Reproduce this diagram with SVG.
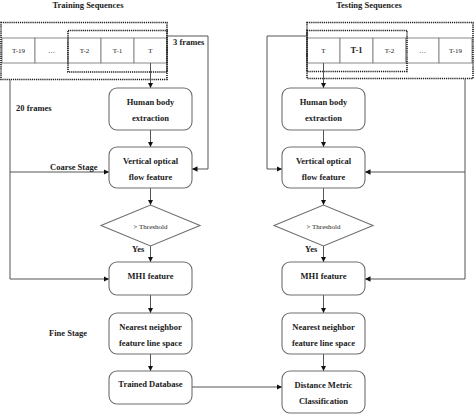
<svg xmlns="http://www.w3.org/2000/svg" width="474" height="414" viewBox="0 0 474 414">
<defs>
<style>
text{font-family:"Liberation Serif","Times New Roman",serif;fill:#1a1a1a;}
.b{font-weight:bold;font-size:8.5px;text-anchor:middle;}
.lb{font-weight:bold;font-size:8.5px;}
.c{font-size:7px;text-anchor:middle;}
.box{fill:#fff;stroke:#6e6e6e;stroke-width:1.1;}
.cell{fill:#fff;stroke:#8a8a8a;stroke-width:1;}
.dot{fill:none;stroke:#1a1a1a;stroke-width:1.6;stroke-dasharray:1.2 0.9;}
.ln{fill:none;stroke:#555;stroke-width:1;}
</style>
<marker id="ah" viewBox="0 0 10 10" refX="10" refY="5" markerWidth="5.5" markerHeight="5.5" orient="auto" markerUnits="userSpaceOnUse">
<path d="M0,0 L10,5 L0,10 z" fill="#111"/>
</marker>
</defs>
<rect width="474" height="414" fill="#fff"/>

<text class="b" x="88" y="8">Training Sequences</text>
<text class="b" x="369" y="8">Testing Sequences</text>

<g id="train-frames">
<rect class="cell" x="2" y="38" width="33" height="25"/>
<rect class="cell" x="35" y="38" width="33" height="25"/>
<rect class="cell" x="68" y="38" width="33" height="25"/>
<rect class="cell" x="101" y="38" width="33" height="25"/>
<rect class="cell" x="134" y="38" width="33" height="25"/>
<text class="c" x="18.5" y="53">T-19</text>
<text class="c" x="51.5" y="53">…</text>
<text class="c" x="84.5" y="53">T-2</text>
<text class="c" x="117.5" y="53">T-1</text>
<text class="c" x="150.5" y="53">T</text>
<rect class="dot" x="1" y="22.5" width="166" height="57"/>
<rect class="dot" x="68" y="30.5" width="99" height="41.5"/>
</g>

<g id="test-frames">
<rect class="cell" x="307" y="38" width="33" height="25"/>
<rect class="cell" x="340" y="38" width="33" height="25"/>
<rect class="cell" x="373" y="38" width="33" height="25"/>
<rect class="cell" x="406" y="38" width="33" height="25"/>
<rect class="cell" x="439" y="38" width="33" height="25"/>
<text class="c" x="323.5" y="53">T</text>
<text class="b" x="356.5" y="53">T-1</text>
<text class="c" x="389.5" y="53">T-2</text>
<text class="c" x="422.5" y="53">…</text>
<text class="c" x="455.5" y="53">T-19</text>
<rect class="dot" x="307" y="22.5" width="166" height="56"/>
<rect class="dot" x="307" y="30.5" width="100" height="41"/>
</g>

<g id="connectors">
<path class="ln" d="M150.5,63 V88" marker-end="url(#ah)"/>
<path class="ln" d="M150.5,130 V147" marker-end="url(#ah)"/>
<path class="ln" d="M150.5,188 V205" marker-end="url(#ah)"/>
<path class="ln" d="M150.5,246 V262" marker-end="url(#ah)"/>
<path class="ln" d="M150.5,295 V313" marker-end="url(#ah)"/>
<path class="ln" d="M150.5,354 V371" marker-end="url(#ah)"/>
<path class="ln" d="M167,36 H208 V169 H192" marker-end="url(#ah)"/>
<path class="ln" d="M10,80 V279 H109" marker-end="url(#ah)"/>
<path class="ln" d="M10,172 H109" marker-end="url(#ah)"/>
<path class="ln" d="M192,387 H282" marker-end="url(#ah)"/>

<path class="ln" d="M323.5,63 V88" marker-end="url(#ah)"/>
<path class="ln" d="M323.5,130 V147" marker-end="url(#ah)"/>
<path class="ln" d="M323.5,188 V205" marker-end="url(#ah)"/>
<path class="ln" d="M323.5,246 V262" marker-end="url(#ah)"/>
<path class="ln" d="M323.5,295 V313" marker-end="url(#ah)"/>
<path class="ln" d="M323.5,354 V371" marker-end="url(#ah)"/>
<path class="ln" d="M307,36 H267 V169 H282" marker-end="url(#ah)"/>
<path class="ln" d="M465,79 V279 H365" marker-end="url(#ah)"/>
<path class="ln" d="M465,172 H365" marker-end="url(#ah)"/>
</g>

<text class="lb" x="173" y="45">3 frames</text>
<text class="lb" x="16" y="111">20 frames</text>
<text class="lb" x="50" y="170">Coarse Stage</text>
<text class="lb" x="49" y="336">Fine Stage</text>
<text class="lb" x="132" y="252">Yes</text>
<text class="lb" x="305" y="252">Yes</text>

<g id="train-human">
<rect class="box" x="109" y="88" width="83" height="42" rx="8"/>
<text class="b" x="150.5" y="105">Human body</text>
<text class="b" x="150.5" y="121">extraction</text>
</g>
<g id="train-optical">
<rect class="box" x="109" y="147" width="83" height="41" rx="8"/>
<text class="b" x="150.5" y="164">Vertical optical</text>
<text class="b" x="150.5" y="180">flow feature</text>
</g>
<g id="train-threshold">
<polygon class="box" points="101,225.5 150.5,205 200,225.5 150.5,246"/>
<text class="c" x="150.5" y="228.5">&gt; Threshold</text>
</g>
<g id="train-mhi">
<rect class="box" x="109" y="262" width="83" height="33" rx="8"/>
<text class="b" x="150.5" y="279">MHI feature</text>
</g>
<g id="train-nn">
<rect class="box" x="109" y="313" width="83" height="41" rx="8"/>
<text class="b" x="150.5" y="330">Nearest neighbor</text>
<text class="b" x="150.5" y="346">feature line space</text>
</g>
<g id="train-db">
<rect class="box" x="109" y="371" width="83" height="33" rx="8"/>
<text class="b" x="150.5" y="387">Trained Database</text>
</g>

<g id="test-human">
<rect class="box" x="282" y="88" width="83" height="42" rx="8"/>
<text class="b" x="323.5" y="105">Human body</text>
<text class="b" x="323.5" y="121">extraction</text>
</g>
<g id="test-optical">
<rect class="box" x="282" y="147" width="83" height="41" rx="8"/>
<text class="b" x="323.5" y="164">Vertical optical</text>
<text class="b" x="323.5" y="180">flow feature</text>
</g>
<g id="test-threshold">
<polygon class="box" points="274,225.5 323.5,205 373,225.5 323.5,246"/>
<text class="c" x="323.5" y="228.5">&gt; Threshold</text>
</g>
<g id="test-mhi">
<rect class="box" x="282" y="262" width="83" height="33" rx="8"/>
<text class="b" x="323.5" y="279">MHI feature</text>
</g>
<g id="test-nn">
<rect class="box" x="282" y="313" width="83" height="41" rx="8"/>
<text class="b" x="323.5" y="330">Nearest neighbor</text>
<text class="b" x="323.5" y="346">feature line space</text>
</g>
<g id="test-classify">
<rect class="box" x="282" y="371" width="83" height="42" rx="8"/>
<text class="b" x="323.5" y="388">Distance Metric</text>
<text class="b" x="323.5" y="404">Classification</text>
</g>
</svg>
